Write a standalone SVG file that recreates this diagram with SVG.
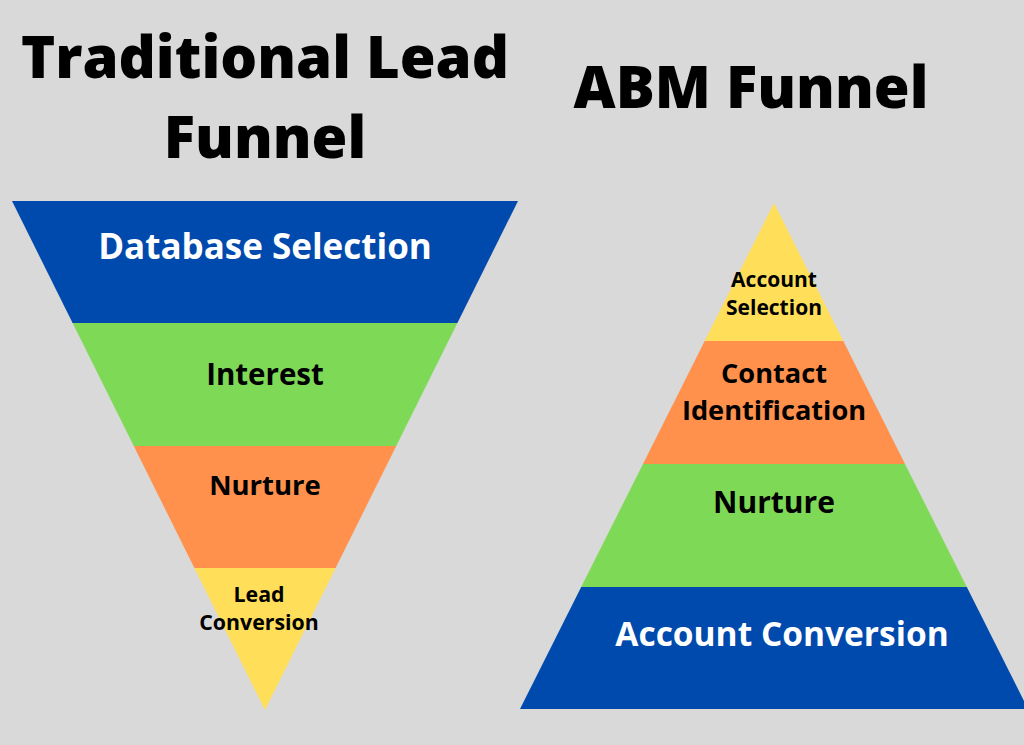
<svg xmlns="http://www.w3.org/2000/svg" width="1024" height="745" viewBox="0 0 1024 745">
<style>
.title{font-family:"Open Sans","Liberation Sans",sans-serif;font-weight:800;font-size:58px;fill:#000;text-anchor:middle}
.lbl{font-family:"Open Sans","Liberation Sans",sans-serif;font-weight:700;fill:#000;text-anchor:middle}
.w{fill:#fff}
.blue{fill:#004aad}.green{fill:#7ed957}.orange{fill:#ff914d}.yellow{fill:#ffde59}
</style>
<rect width="1024" height="745" fill="#d9d9d9"/>
<g id="titles">
<text class="title" x="265" y="78">Traditional Lead</text>
<text class="title" x="265" y="158">Funnel</text>
<text class="title" x="751" y="108">ABM Funnel</text>
</g>
<g id="traditional-funnel">
<g id="database-selection">
<polygon class="blue" points="12,201 518,201 457.4,323 72.6,323"/>
<text class="lbl w" x="265" y="259" font-size="35">Database Selection</text>
</g>
<g id="interest">
<polygon class="green" points="72.6,323 457.4,323 396.2,446 133.8,446"/>
<text class="lbl" x="265" y="385" font-size="29.5">Interest</text>
</g>
<g id="nurture-left">
<polygon class="orange" points="133.8,446 396.2,446 335.6,568 194.4,568"/>
<text class="lbl" x="265" y="495" font-size="27.5">Nurture</text>
</g>
<g id="lead-conversion">
<polygon class="yellow" points="194.4,568 335.6,568 265,710"/>
<text class="lbl" x="259" y="602" font-size="21.3">Lead</text>
<text class="lbl" x="259" y="630" font-size="21.3">Conversion</text>
</g>
</g>
<g id="abm-funnel">
<g id="account-selection">
<polygon class="yellow" points="774,203 843.3,341 704.7,341"/>
<text class="lbl" x="774" y="287" font-size="21">Account</text>
<text class="lbl" x="774" y="315" font-size="21">Selection</text>
</g>
<g id="contact-identification">
<polygon class="orange" points="704.7,341 843.3,341 905,464 643,464"/>
<text class="lbl" x="774" y="383" font-size="27.2">Contact</text>
<text class="lbl" x="774" y="420" font-size="27.2">Identification</text>
</g>
<g id="nurture-right">
<polygon class="green" points="643,464 905,464 966.8,587 581.2,587"/>
<text class="lbl" x="774" y="513" font-size="30">Nurture</text>
</g>
<g id="account-conversion">
<polygon class="blue" points="581.2,587 966.8,587 1028,709 520,709"/>
<text class="lbl w" x="782" y="646" font-size="33.5">Account Conversion</text>
</g>
</g>
<g id="connectors"/>
</svg>
